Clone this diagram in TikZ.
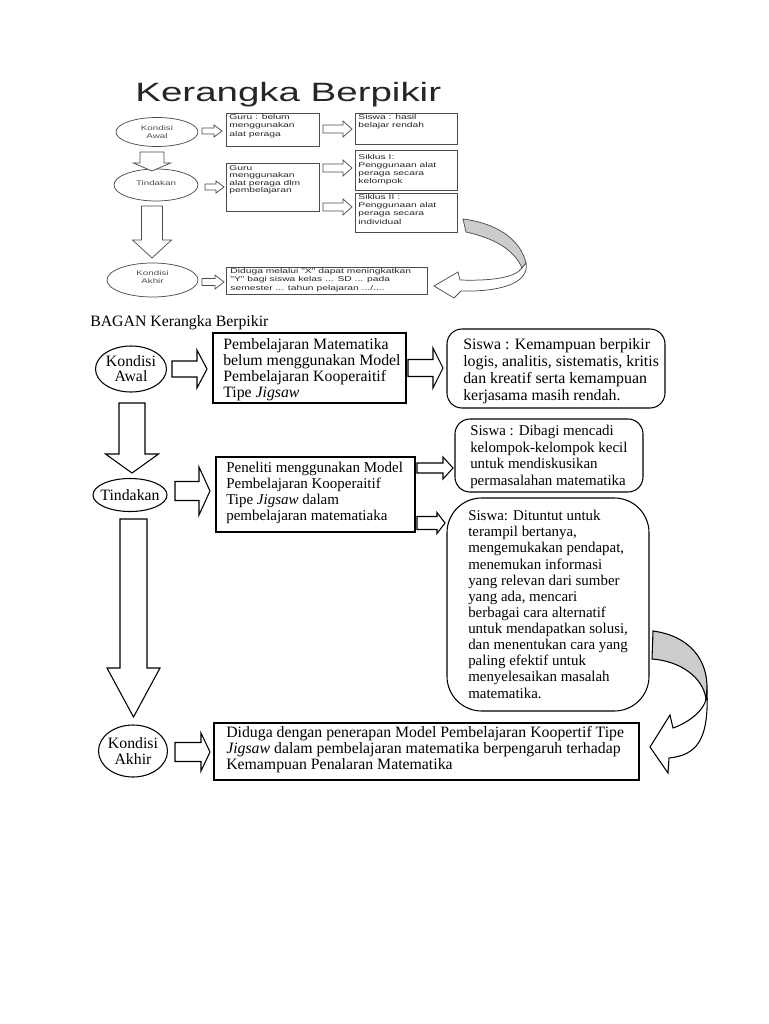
\documentclass[tikz,border=0pt]{standalone}
\usepackage{fontspec}
\setmainfont{Liberation Serif}
\newfontfamily\arialf{Liberation Sans}
\usetikzlibrary{shapes.geometric}
% right block arrow: style, x0, xbase, xtip, yc, shaft half, head half
\newcommand\myRarrow[7]{\draw[#1] (#2,{#5-#6}) -- (#3,{#5-#6}) -- (#3,{#5-#7}) -- (#4,#5) -- (#3,{#5+#7}) -- (#3,{#5+#6}) -- (#2,{#5+#6}) -- cycle;}
% down block arrow: style, xc, y0, ybase, ytip, shaft half, head half
\newcommand\myDarrow[7]{\draw[#1] ({#2-#6},#3) -- ({#2+#6},#3) -- ({#2+#6},#4) -- ({#2+#7},#4) -- (#2,#5) -- ({#2-#7},#4) -- ({#2-#6},#4) -- cycle;}
% box: style, name, x1, y1, x2, y2
\newcommand\myBox[6]{\node[#1, rectangle, inner sep=0pt, minimum width={(#5-#3)*0.75pt}, minimum height={(#6-#4)*0.75pt}] (#2) at ({(#3+#5)/2},{(#4+#6)/2}) {};}
% ellipse: style, name, x, y, w, h
\newcommand\myEll[6]{\node[#1, ellipse, inner sep=0pt, minimum width={#5*0.75pt}, minimum height={#6*0.75pt}] (#2) at (#3,#4) {};}
\tikzset{
  bl/.style={draw=black, line width=0.8pt},
  blk/.style={bl, fill=white},
  rbox/.style={bl, rounded corners=11.25pt},
  tl/.style={draw=black!70, line width=0.55pt},
  tlk/.style={tl, fill=white},
  txt/.style={inner sep=0pt, anchor=north west, align=left, font=\fontsize{11.85}{12}\selectfont},
  elab/.style={inner sep=0pt, align=center, font=\fontsize{11.85}{11.25}\selectfont},
  ttxt/.style={inner sep=0pt, anchor=north west, align=left, xscale=1.47, text=black!85, font=\arialf\fontsize{5.25}{6.3}\selectfont},
  tlab/.style={inner sep=0pt, align=center, xscale=1.47, text=black!70, font=\arialf\fontsize{5}{5.8}\selectfont},
}
\begin{document}
\begin{tikzpicture}[x=0.75pt,y=-0.75pt]
\fill[white] (0,0) rectangle (768,1024);
\useasboundingbox (0,0) rectangle (768,1024);

% ================= TOP (image) =================
\node[anchor=base west, inner sep=0pt, xscale=1.45, text=black!85, font=\arialf\fontsize{19.9}{20}\selectfont] (title) at (135,102) {Kerangka Berpikir};

\myEll{tl}{te1}{157}{132}{82}{29}
\node[tlab] at (te1) {Kondisi\\Awal};
\myEll{tl}{te2}{156}{185}{84}{32}
\node[tlab] at (156,183) {Tindakan};
\myEll{tl}{te3}{152.5}{280}{91}{34}
\node[tlab] at (152.5,277) {Kondisi\\Akhir};

\myBox{tl}{tb1}{226}{113}{319}{146}
\node[ttxt] (tt1) at (229,114) {Guru : belum\\menggunakan\\alat peraga};
\myBox{tl}{tb2}{355}{113}{457}{144}
\node[ttxt] (tt2) at (358,114) {Siswa : hasil\\belajar rendah};
\myBox{tl}{tb3}{226}{163}{319}{211}
\node[ttxt, font=\arialf\fontsize{5.25}{5.7}\selectfont] (tt3) at (229,165) {Guru\\menggunakan\\alat peraga dlm\\pembelajaran};
\myBox{tl}{tb4}{355}{150}{457}{190}
\node[ttxt, font=\arialf\fontsize{5.25}{6}\selectfont] (tt4) at (358,154) {Siklus I:\\Penggunaan alat\\peraga secara\\kelompok};
\myBox{tl}{tb5}{355}{193}{457}{232}
\node[ttxt, font=\arialf\fontsize{5.25}{6.2}\selectfont] (tt5) at (358,194) {Siklus II :\\Penggunaan alat\\peraga secara\\individual};
\myBox{tl}{tb6}{226}{267}{427}{294}
\node[ttxt] (tt6) at (230,268) {Diduga melalui "X" dapat meningkatkan\\"Y" bagi siswa kelas ... SD ... pada\\semester ... tahun pelajaran .../....};

\myRarrow{tlk}{202}{214}{222}{131}{3}{6}
\myRarrow{tlk}{323}{343}{352}{129}{4}{8}
\myRarrow{tlk}{205}{216}{224}{187}{3}{6}
\myRarrow{tlk}{323}{343}{352}{168}{4}{8}
\myRarrow{tlk}{323}{343}{352}{207}{4}{8}
\myRarrow{tlk}{202}{215}{224}{282}{3.5}{7}
\myDarrow{tlk}{152}{152}{163}{171}{12}{18.5}
\myDarrow{tlk}{152}{206}{240}{258}{10.5}{19.5}

% top curved arrow
\draw[tl, fill=gray!40] (463,219) .. controls (495,223) and (520,238) .. (526,263) -- (522,268) .. controls (514,249) and (493,238) .. (466,232) -- cycle;
\draw[tl, fill=white] (526,263) .. controls (530,285) and (495,292) .. (461,291) -- (454,298) -- (434,286) -- (458,272) -- (460,280) .. controls (490,281) and (515,278) .. (522,268) -- cycle;

% ================= BOTTOM =================
\node[anchor=base west, inner sep=0pt, font=\fontsize{11.85}{12}\selectfont] (bagan) at (90,326) {BAGAN Kerangka Berpikir};

\myEll{bl}{e1}{131}{369}{71}{46}
\node[elab] at (e1) {Kondisi\\Awal};
\myEll{bl}{e2}{130}{495}{74}{33}
\node[elab] at (e2) {Tindakan};
\myEll{bl}{e3}{133}{751}{69}{52}
\node[elab, font=\fontsize{11.85}{12}\selectfont] at (e3) {Kondisi\\Akhir};

\myBox{bl}{b1}{213}{333}{406}{403}
\node[txt] (t1) at (223,338) {Pembelajaran Matematika\\belum menggunakan Model\\Pembelajaran Kooperaitif\\Tipe \textit{Jigsaw}};
\myBox{rbox}{r1}{447}{329}{665}{408}
\node[txt, font=\fontsize{11.9}{12.75}\selectfont] (t2) at (463,338) {Siswa : Kemampuan berpikir\\logis, analitis, sistematis, kritis\\dan kreatif serta kemampuan\\kerjasama masih rendah.};
\myBox{bl}{b2}{216}{457}{415}{532}
\node[txt, font=\fontsize{11.25}{12}\selectfont] (t3) at (226,462) {Peneliti menggunakan Model\\Pembelajaran Kooperaitif\\Tipe \textit{Jigsaw} dalam\\pembelajaran matematiaka};
\myBox{rbox}{r2}{455}{419}{643}{492}
\node[txt, font=\fontsize{11.2}{12.5}\selectfont] (t4) at (470,425) {Siswa : Dibagi mencadi\\kelompok-kelompok kecil\\untuk mendiskusikan\\permasalahan matematika};
\myBox{bl, rounded corners=26pt}{r3}{447}{498}{649}{711}
\node[txt, font=\fontsize{11.2}{12.1}\selectfont] (t5) at (468,510) {Siswa: Dituntut untuk\\terampil bertanya,\\mengemukakan pendapat,\\menemukan informasi\\yang relevan dari sumber\\yang ada, mencari\\berbagai cara alternatif\\untuk mendapatkan solusi,\\dan menentukan cara yang\\paling efektif untuk\\menyelesaikan masalah\\matematika.};
\myBox{bl}{b3}{214}{723}{639}{780}
\node[txt] (t6) at (226,726) {Diduga dengan penerapan Model Pembelajaran Koopertif Tipe\\\textit{Jigsaw} dalam pembelajaran matematika berpengaruh terhadap\\Kemampuan Penalaran Matematika};

\myRarrow{blk}{172}{197}{207}{369}{8}{19}
\myRarrow{blk}{408}{433}{443}{368}{8.5}{20}
\myRarrow{blk}{175}{199}{210}{491}{9.5}{24}
\myRarrow{blk}{417}{443}{453}{468}{5}{11}
\myRarrow{blk}{417}{437}{445}{523}{6.5}{10.5}
\myRarrow{blk}{175}{201}{210}{752}{9.5}{19}
\myDarrow{blk}{132}{403}{454}{473}{13}{26.5}
\myDarrow{blk}{133.5}{519}{668}{717}{13.5}{26.5}

% bottom curved arrow
\draw[bl, fill=gray!40] (653,631) .. controls (690,636) and (708,660) .. (707,690) -- (706,699) .. controls (703,677) and (680,661) .. (652,659) -- cycle;
\draw[bl, fill=white] (707,690) .. controls (709,740) and (697,755) .. (669,758) -- (668,773) -- (650,747) -- (670,715) -- (673,728) .. controls (690,722) and (704,710) .. (706,699) -- cycle;
\end{tikzpicture}
\end{document}
